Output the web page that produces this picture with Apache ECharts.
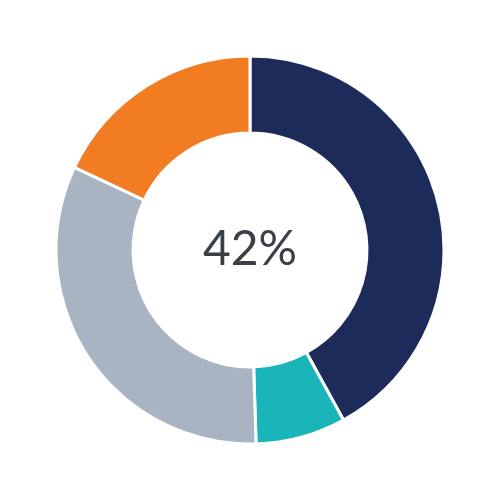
<!DOCTYPE html>
<html>
<head>
<meta charset="utf-8">
<script src="https://cdn.jsdelivr.net/npm/echarts@6/dist/echarts.min.js"></script>
<style>
  html, body { margin: 0; padding: 0; background: #fff; }
  #chart { width: 500px; height: 500px; }
</style>
</head>
<body>
<div id="chart"></div>
<script>
var names = ['A', 'B', 'C', 'D'];
var values = [42, 7.5, 32.5, 18];
var colors = ['#1c2b5a', '#1ab5b8', '#a8b4c2', '#f27c22'];
var centerText = '42%';

var chart = echarts.init(document.getElementById('chart'));

var data = names.map(function (n, i) {
  return { name: n, value: values[i], itemStyle: { color: colors[i] } };
});

var option = {
  animation: false,
  title: {
    text: centerText,
    left: 'center',
    top: 'middle',
    textStyle: {
      fontFamily: 'Lato',
      fontWeight: 'normal',
      fontSize: 48,
      color: '#3a3f48'
    }
  },
  series: [
    {
      type: 'pie',
      center: [250, 250],
      radius: [117, 194],
      startAngle: 90,
      clockwise: true,
      label: { show: false },
      labelLine: { show: false },
      itemStyle: { borderColor: '#fff', borderWidth: 3 },
      emphasis: { disabled: true },
      data: data
    }
  ]
};

chart.setOption(option);
</script>
</body>
</html>
